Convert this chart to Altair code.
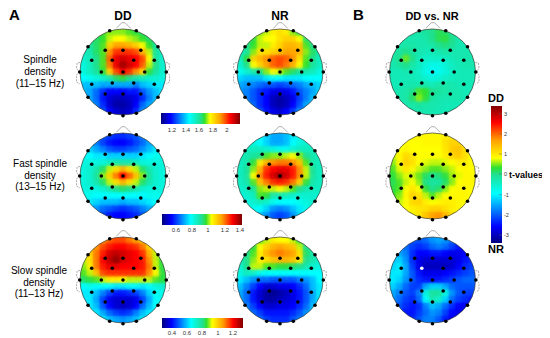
import altair as alt
import pandas as pd

W, H = 534, 328
FONT = "Liberation Sans"

# Colour levels, 0-100 along each map's colour bar.
dd_spindle = [
[50,52,54,56,58,58,58,56,54,52,50,48,48],
[48,50,52,55,60,62,62,60,58,55,52,50,48],
[46,48,52,56,68,74,74,72,68,62,55,48,46],
[44,46,52,56,76,84,84,84,82,72,60,48,44],
[42,45,50,56,80,90,92,90,88,82,62,48,42],
[40,44,50,56,78,90,97,92,88,80,60,50,42],
[40,44,48,54,68,82,88,84,76,68,54,48,42],
[36,38,40,42,46,52,54,50,46,44,42,42,40],
[30,30,30,28,28,28,28,28,24,30,32,34,34],
[30,28,22,16,12,12,12,14,14,20,26,30,34],
[30,28,22,14,8,6,6,8,10,16,24,30,34],
[34,30,24,16,8,4,4,6,12,22,28,32,36],
[38,34,28,20,12,8,6,8,16,26,32,36,38]]
nr_spindle = [
[50,50,52,58,60,64,66,64,58,54,50,48,48],
[48,50,54,60,62,62,66,68,68,62,52,48,48],
[46,50,55,60,60,64,68,72,72,70,56,50,46],
[44,48,58,66,66,68,70,74,74,72,58,52,46],
[44,54,68,72,76,80,82,80,76,66,56,50,44],
[42,50,62,68,74,80,82,78,72,62,55,48,44],
[38,42,46,50,58,62,60,56,52,48,46,44,40],
[32,30,30,30,34,36,36,34,34,34,36,36,36],
[28,26,24,22,20,20,18,20,22,24,28,30,32],
[26,24,20,16,14,10,10,10,14,20,24,28,32],
[28,24,20,16,12,6,4,6,10,18,24,30,34],
[30,26,22,16,12,6,4,6,12,20,28,32,36],
[34,30,26,20,14,10,8,12,18,26,32,36,38]]
t_spindle = [
[46,46,46,46,47,48,50,53,52,48,46,45,45],
[46,46,46,46,46,47,50,53,54,50,46,45,45],
[46,46,47,47,46,46,47,50,51,49,46,45,45],
[47,48,50,48,46,45,45,46,47,46,46,46,46],
[47,50,57,50,45,43,43,43,44,45,46,46,46],
[46,48,50,47,44,40,39,39,41,44,45,46,46],
[45,45,46,45,43,39,37,38,40,43,45,45,45],
[45,45,45,45,44,42,40,41,43,44,45,45,45],
[45,45,46,46,46,46,45,47,47,46,45,45,45],
[45,46,47,50,56,55,50,48,47,46,46,45,45],
[45,46,47,52,58,54,48,46,46,46,46,45,45],
[45,46,46,47,48,47,46,46,45,45,45,45,45],
[45,45,45,46,46,46,46,45,45,45,45,45,45]]
dd_fast = [
[30,28,24,20,18,16,16,18,20,24,28,30,32],
[32,28,24,18,14,12,12,14,18,22,28,32,34],
[34,32,28,24,20,18,18,20,22,26,30,34,36],
[38,36,34,34,32,32,32,32,32,34,36,38,38],
[40,40,40,40,44,46,46,46,44,40,40,40,40],
[40,42,46,52,60,66,72,66,60,52,46,42,40],
[40,42,48,58,68,78,88,80,70,58,48,42,40],
[40,42,46,52,60,66,72,66,60,52,46,42,40],
[40,40,40,42,46,50,52,50,46,42,40,40,40],
[38,38,36,36,36,36,36,36,36,36,38,38,38],
[36,34,32,30,30,30,28,30,30,32,34,36,36],
[34,30,26,22,20,18,16,18,20,24,28,32,34],
[30,26,22,18,14,12,12,14,16,20,24,28,30]]
nr_fast = [
[42,42,40,36,32,28,28,30,34,38,40,42,42],
[44,42,40,36,32,28,28,30,36,40,42,42,44],
[44,44,44,44,42,40,38,38,42,44,44,44,44],
[44,46,48,50,56,58,58,60,62,58,50,46,44],
[44,46,54,64,72,76,78,78,76,70,56,46,44],
[44,48,58,72,84,88,90,90,86,76,60,48,44],
[44,48,62,76,86,92,97,92,86,76,60,48,44],
[44,46,56,70,78,84,86,84,78,68,54,46,44],
[42,44,48,58,60,60,62,60,56,50,46,44,44],
[40,42,44,56,54,46,46,44,42,42,42,42,42],
[38,40,42,44,42,38,36,36,36,38,40,42,42],
[36,38,38,36,32,26,24,26,30,34,38,40,40],
[36,36,34,30,26,20,18,20,26,32,36,38,38]]
t_fast = [
[60,60,62,62,63,63,63,63,64,64,63,62,62],
[60,61,62,62,62,63,63,63,66,68,68,64,62],
[60,62,63,62,62,62,62,62,65,69,70,66,62],
[60,63,67,65,62,62,62,62,64,68,69,66,62],
[58,63,68,66,62,61,60,60,61,62,64,64,62],
[56,61,65,63,60,58,56,56,58,60,62,63,62],
[54,58,61,60,57,52,50,51,54,59,61,63,63],
[53,56,60,62,58,50,48,48,52,58,62,63,63],
[54,56,62,65,62,54,50,52,58,62,63,63,62],
[55,58,63,68,66,60,56,60,62,63,63,63,62],
[58,60,62,67,68,64,62,63,64,64,63,62,62],
[60,61,62,64,65,66,68,68,66,64,63,62,62],
[60,61,62,63,65,70,74,76,72,66,63,62,62]]
dd_slow = [
[64,66,72,76,80,82,82,78,74,70,66,62,60],
[64,68,76,82,86,88,88,86,84,78,68,62,60],
[62,68,78,86,92,94,92,90,88,84,72,60,56],
[60,66,78,88,94,98,92,90,88,86,76,60,54],
[58,64,78,86,90,90,88,88,88,86,78,60,54],
[56,60,70,82,84,84,84,84,84,84,76,62,54],
[52,54,56,60,64,64,62,60,60,60,60,56,54],
[36,38,36,36,36,34,34,36,36,34,36,40,42],
[34,34,30,24,18,14,14,16,18,24,32,38,38],
[34,34,28,18,10,8,8,8,10,18,28,36,38],
[34,34,30,20,12,8,6,8,12,22,30,36,38],
[36,36,34,28,22,18,16,18,24,30,34,36,38],
[38,38,36,34,30,28,26,28,30,34,36,36,38]]
nr_slow = [
[50,50,52,56,60,64,62,62,60,54,50,48,46],
[48,50,54,62,68,72,74,72,70,60,50,46,44],
[46,50,56,64,72,76,78,76,74,66,52,46,44],
[44,50,58,64,66,70,72,72,70,64,50,46,42],
[42,50,60,60,56,56,54,54,52,50,46,42,40],
[40,44,42,38,36,36,36,36,36,36,36,36,36],
[34,30,26,22,22,20,20,20,20,24,26,30,36],
[30,24,18,12,8,8,10,10,12,16,22,30,34],
[28,22,14,8,4,2,4,6,10,14,20,28,34],
[28,22,14,8,4,4,6,8,10,14,20,28,34],
[30,24,18,12,8,8,10,10,12,16,22,30,34],
[32,26,22,18,14,14,14,14,16,20,26,32,36],
[34,30,26,22,18,16,16,16,20,24,30,34,38]]
t_slow = [
[22,22,22,20,20,22,26,28,26,22,18,16,16],
[24,24,22,18,16,18,22,24,22,18,14,12,12],
[28,28,24,16,12,12,14,14,12,10,10,12,12],
[30,32,26,16,10,8,8,8,8,8,10,14,16],
[32,34,28,18,10,6,6,6,6,8,12,16,18],
[34,34,28,20,14,10,10,10,12,14,16,18,20],
[34,32,26,20,16,14,14,14,16,18,20,22,22],
[32,28,22,18,18,28,32,32,28,22,20,20,20],
[28,24,20,18,24,40,48,48,40,26,20,18,18],
[26,22,18,16,22,36,46,42,32,22,18,16,14],
[24,20,16,14,16,24,30,28,22,16,12,10,12],
[22,18,14,14,18,22,26,24,18,12,10,10,12],
[20,16,14,16,20,24,24,20,14,10,10,12,14]]

map_grids = [dd_spindle, nr_spindle, t_spindle, dd_fast, nr_fast, t_fast, dd_slow, nr_slow, t_slow]
map_cx = [123, 280, 432.5] * 3
map_cy = [72]*3 + [176]*3 + [280]*3
R, STEP = 43, 6.6

elec_x = [-13.3,13.3,-35,35,-17.8,0,17.8,-31.3,-10.7,10.7,31.3,-43.3,-21.7,0,21.7,43.3,
          -31.3,-10.7,10.7,31.3,-17.8,0,17.8,-35,35,-13.3,13.3,0]
elec_y = [-41.3,-41.3,-25.3,-25.3,-21.7,-21.7,-21.7,-11.7,-11.7,-11.7,-11.7,0,0,0,0,0,
          12.3,11,11,12.3,22,22,22,25.3,25.3,41.3,41.3,43.7]
nose_x = [-6.5,-1.3,2,7.6]
nose_y = [-43.7,-49.3,-49.3,-43.7]
ear_x = [43,46,46.5,44,46.5,46.5,43]
ear_y = [-9.5,-9,-4,0,3,10,12]

stop_pos = [0,12,24,36,50,55,62,75,88,100]
stop_col = ["#00007f","#0000ff","#0080ff","#00ffff","#20e090","#30e030","#ffff00","#ffa000","#ff0000","#800000"]

SX = alt.Scale(domain=[8, 8+W], range=[0, W])
SY = alt.Scale(domain=[8, 8+H], range=[0, H])
X = alt.X("x:Q", scale=SX, axis=None)
Y = alt.Y("y:Q", scale=SY, axis=None)
COL = alt.Color("v:Q", legend=None,
                scale=alt.Scale(domain=stop_pos, range=stop_col, interpolate="rgb", clamp=True))

cells, dots, outlines, centers = [], [], [], []
for m, grid in enumerate(map_grids):
    cx, cy = map_cx[m], map_cy[m]
    centers.append({"x": cx, "y": cy})
    for j, row in enumerate(grid):
        for i, v in enumerate(row):
            dx, dy = (i-6)*STEP, (j-6)*STEP
            if (dx*dx+dy*dy)**0.5 <= R+4:
                cells.append({"x": cx+dx, "y": cy+dy, "v": v})
    for k, (ex, ey) in enumerate(zip(elec_x, elec_y)):
        dots.append({"x": cx+ex, "y": cy+ey, "white": m == 8 and k == 8})
    for k, (a, b) in enumerate(zip(nose_x, nose_y)):
        outlines.append({"x": cx+a, "y": cy+b, "g": f"n{m}", "k": k, "part": "nose"})
    for k, (a, b) in enumerate(zip(ear_x, ear_y)):
        outlines.append({"x": cx+a, "y": cy+b, "g": f"r{m}", "k": k, "part": "ear"})
        outlines.append({"x": cx-a, "y": cy+b, "g": f"l{m}", "k": k, "part": "ear"})

cells = pd.DataFrame(cells)
dots = pd.DataFrame(dots)
outlines = pd.DataFrame(outlines)
centers = pd.DataFrame(centers)

base = alt.Chart(cells).encode(x=X, y=Y, color=COL)
heat0 = base.mark_square(size=(STEP*1.1)**2, opacity=1, strokeWidth=0)
heat1 = base.mark_circle(size=(STEP*2.0)**2, opacity=0.3, strokeWidth=0)
heat2 = base.mark_circle(size=(STEP*1.5)**2, opacity=0.3, strokeWidth=0)
heat3 = base.mark_circle(size=(STEP*1.0)**2, opacity=0.35, strokeWidth=0)

ring = alt.Chart(centers).mark_point(filled=False, color="white", opacity=1, strokeWidth=16,
                                     size=(2*R+16)**2, shape="circle").encode(x=X, y=Y)
rim = alt.Chart(centers).mark_point(filled=False, color="#3a3a30", opacity=1, strokeWidth=0.7,
                                    size=(2*R)**2, shape="circle").encode(x=X, y=Y)
nose = alt.Chart(outlines[outlines.part == "nose"]).mark_line(color="#999999", strokeWidth=0.8).encode(
    x=X, y=Y, detail="g:N", order="k:Q")
ears = alt.Chart(outlines[outlines.part == "ear"]).mark_line(color="#999999", strokeWidth=0.8,
                                                             strokeDash=[2, 1]).encode(
    x=X, y=Y, detail="g:N", order="k:Q")
edots = alt.Chart(dots[~dots.white]).mark_circle(color="black", size=13, opacity=1).encode(x=X, y=Y)
wdots = alt.Chart(dots[dots.white]).mark_circle(color="white", size=13, opacity=1).encode(x=X, y=Y)

# colour bars
stops = [alt.GradientStop(offset=p/100, color=c) for p, c in zip(stop_pos, stop_col)]
hgrad = alt.LinearGradient(gradient="linear", stops=stops, x1=0, x2=1, y1=0, y2=0)
vgrad = alt.LinearGradient(gradient="linear", stops=stops, x1=0, x2=0, y1=1, y2=0)
hbars = pd.DataFrame({"x": [161, 162, 162], "x2": [240, 242, 243],
                      "y": [113, 214, 318], "y2": [124, 225, 328]})
vbar = pd.DataFrame({"x": [491], "x2": [502], "y": [106], "y2": [243]})
hb = alt.Chart(hbars).mark_rect(fill=hgrad).encode(x=X, x2="x2:Q", y=Y, y2="y2:Q")
vb = alt.Chart(vbar).mark_rect(fill=vgrad).encode(x=X, x2="x2:Q", y=Y, y2="y2:Q")

vtick_vals = ["3", "2", "1", "0", "-1", "-2", "-3"]
vtick_y = [113.7, 134, 154, 174, 194.7, 215, 235]
vticks = pd.DataFrame({"y": vtick_y, "x": [499]*7, "x2": [502]*7, "t": vtick_vals, "tx": [504]*7})
vt = alt.Chart(vticks).mark_rule(color="#666666", strokeWidth=0.5).encode(x=X, x2="x2:Q", y=Y)


def label(rows, size, bold=False, align="center", color="black"):
    df = pd.DataFrame(rows, columns=["x", "y", "t"])
    return alt.Chart(df).mark_text(font=FONT, fontSize=size, fontWeight="bold" if bold else "normal",
                                   align=align, baseline="middle", color=color).encode(x=X, y=Y, text="t:N")


bar_labels = [
    (172, 129.5, "1.2"), (186, 129.5, "1.4"), (199, 129.5, "1.6"), (213, 129.5, "1.8"), (227, 129.5, "2"),
    (176, 229.5, "0.6"), (192, 229.5, "0.8"), (208, 229.5, "1"), (225, 229.5, "1.2"), (240, 229.5, "1.4"),
    (172, 333, "0.4"), (187, 333, "0.6"), (202, 333, "0.8"), (218, 333, "1"), (233, 333, "1.2")]
side_labels = [(40, 60, "Spindle"), (40, 72, "density"), (40, 84, "(11–15 Hz)"),
               (40, 164, "Fast spindle"), (40, 175.5, "density"), (40, 187, "(13–15 Hz)"),
               (39, 271, "Slow spindle"), (39, 282.5, "density"), (39, 294, "(11–13 Hz)")]

layers = [heat0, heat1, heat2, heat3, ring, rim, nose, ears, edots, wdots, hb, vb, vt,
          label(bar_labels, 6, color="#333333"),
          label(list(zip(vticks.tx, vticks.y, vticks.t)), 5.5, align="left", color="#333333"),
          label(side_labels, 10),
          label([(123, 15.5, "DD"), (280, 15.5, "NR")], 12, bold=True),
          label([(432, 17, "DD vs. NR")], 11, bold=True),
          label([(496, 99, "DD"), (496, 250, "NR")], 11, bold=True),
          label([(509, 175, "t-values")], 9, bold=True, align="left"),
          label([(9, 15, "A"), (353, 15, "B")], 15, bold=True, align="left")]

chart = alt.layer(*layers).properties(
    width=W, height=H, padding=0, autosize=alt.AutoSizeParams(type="none")
).configure_view(stroke=None)

chart.save("out.html", embed_options={"renderer": "svg", "actions": False})
